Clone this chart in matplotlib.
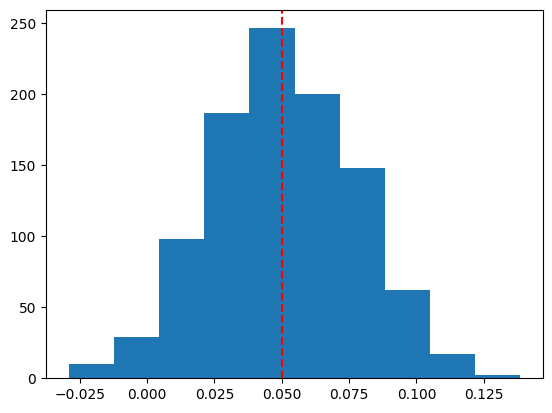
import numpy as np
import matplotlib
matplotlib.use("Agg")
import matplotlib.pyplot as plt

# histogram: 10 equal bins
bin_lo = -0.0291
bin_hi = 0.1386
counts = [10, 29, 98, 187, 247, 200, 148, 62, 17, 2]
ref_value = 0.05

edges = np.linspace(bin_lo, bin_hi, len(counts) + 1)

fig = plt.figure(figsize=(5.52, 4.13), dpi=100)
ax = fig.add_axes([46 / 552, 35 / 413, 497 / 552, 368 / 413])
ax.hist(edges[:-1], bins=edges, weights=counts)
ax.axvline(ref_value, color="r", linestyle="--")

fig.savefig("out.png", dpi=100)
plt.close(fig)
